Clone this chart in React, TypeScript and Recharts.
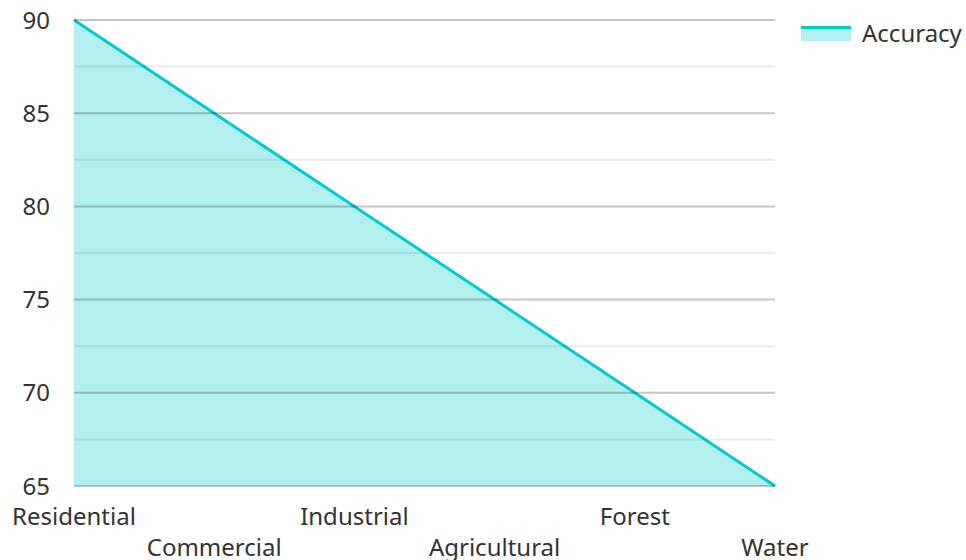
import React from "react";
import { AreaChart, Area, XAxis, YAxis, ReferenceLine, Legend } from "recharts";

const categories = ["Residential", "Commercial", "Industrial", "Agricultural", "Forest", "Water"];
const accuracy = [90, 85, 80, 75, 70, 65];
const yTicks = [65, 70, 75, 80, 85, 90];
const minorTicks = [67.5, 72.5, 77.5, 82.5, 87.5];

const data = categories.map((c, i) => ({ name: c, Accuracy: accuracy[i] }));

const COLOR = "#00cccc";
const FONT = "'Noto Sans', 'Open Sans', sans-serif";
const FS = 24;

const XTick = (props: any) => {
  const { x, y, payload, index } = props;
  const dy = index % 2 === 0 ? 31 : 62;
  return (
    <text x={x} y={y} dy={dy} textAnchor="middle" fill="#333" fontSize={FS} fontFamily={FONT}>
      {payload.value}
    </text>
  );
};

const LegendContent = () => (
  <div style={{ display: "flex", alignItems: "center", fontFamily: FONT, fontSize: FS, color: "#333", lineHeight: "28px" }}>
    <svg width={50} height={16} style={{ marginRight: 11 }}>
      <rect x={0} y={2} width={50} height={14} fill={COLOR} fillOpacity={0.3} />
      <rect x={0} y={1} width={50} height={3} fill={COLOR} />
    </svg>
    <span>Accuracy</span>
  </div>
);

export default function App() {
  return (
    <div style={{ width: 966, height: 560 }}>
      <style>{`body{margin:0}`}</style>
      <AreaChart width={966} height={560} data={data} margin={{ top: 20, right: 191, bottom: 0, left: 0 }}>
        <XAxis
          dataKey="name"
          axisLine={false}
          tickLine={false}
          height={74}
          interval={0}
          tick={<XTick />}
        />
        <YAxis
          domain={[65, 90]}
          ticks={yTicks}
          axisLine={false}
          tickLine={false}
          width={74}
          tickMargin={18}
          tick={{ fill: "#333", fontSize: FS, fontFamily: FONT }}
        />
        <Area
          type="linear"
          dataKey="Accuracy"
          stroke="none"
          fill={COLOR}
          fillOpacity={0.3}
          isAnimationActive={false}
          legendType="none"
        />
        {minorTicks.map((v) => (
          <ReferenceLine key={"m" + v} y={v} stroke="rgba(0,0,0,0.08)" strokeWidth={2} />
        ))}
        {yTicks.map((v) => (
          <ReferenceLine key={"M" + v} y={v} stroke="rgba(0,0,0,0.22)" strokeWidth={2} />
        ))}
        <Area
          type="linear"
          dataKey="Accuracy"
          stroke={COLOR}
          strokeWidth={3}
          fill="none"
          isAnimationActive={false}
        />
        <Legend
          layout="horizontal"
          verticalAlign="middle"
          align="center"
          content={<LegendContent />}
          wrapperStyle={{ top: 19, left: 801, width: 165 }}
        />
      </AreaChart>
    </div>
  );
}
